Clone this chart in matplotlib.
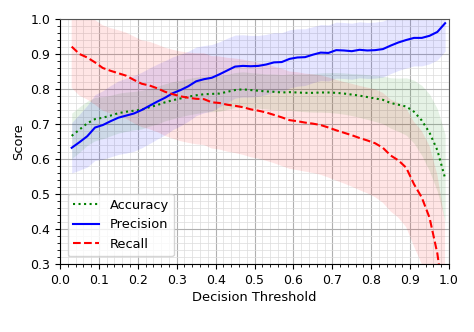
import numpy as np
import matplotlib
matplotlib.use("Agg")
import matplotlib.pyplot as plt
from matplotlib.ticker import MultipleLocator

# decision thresholds
thresholds = [0.03, 0.05, 0.07, 0.09, 0.11, 0.13, 0.15, 0.17, 0.19, 0.21,
              0.23, 0.25, 0.27, 0.29, 0.31, 0.33, 0.35, 0.37, 0.39, 0.41,
              0.43, 0.45, 0.47, 0.49, 0.51, 0.53, 0.55, 0.57, 0.59, 0.61,
              0.63, 0.65, 0.67, 0.69, 0.71, 0.73, 0.75, 0.77, 0.79, 0.81,
              0.83, 0.85, 0.87, 0.89, 0.91, 0.93, 0.95, 0.97, 0.99]

accuracy = [0.666, 0.684, 0.702, 0.714, 0.718, 0.724, 0.731, 0.735, 0.738, 0.741,
            0.748, 0.754, 0.762, 0.768, 0.773, 0.778, 0.782, 0.785, 0.786, 0.787,
            0.792, 0.797, 0.799, 0.797, 0.795, 0.793, 0.792, 0.790, 0.791, 0.790,
            0.789, 0.789, 0.790, 0.790, 0.789, 0.787, 0.784, 0.781, 0.777, 0.773,
            0.769, 0.760, 0.755, 0.750, 0.735, 0.710, 0.675, 0.625, 0.545]
accuracy_std = [0.065, 0.065, 0.063, 0.062, 0.060, 0.058, 0.057, 0.056, 0.055, 0.055,
                0.054, 0.054, 0.053, 0.053, 0.052, 0.052, 0.052, 0.051, 0.051, 0.051,
                0.050, 0.050, 0.050, 0.050, 0.050, 0.050, 0.051, 0.051, 0.052, 0.053,
                0.054, 0.055, 0.056, 0.057, 0.058, 0.059, 0.060, 0.062, 0.064, 0.066,
                0.068, 0.072, 0.076, 0.082, 0.090, 0.100, 0.110, 0.118, 0.125]

precision = [0.632, 0.648, 0.665, 0.690, 0.697, 0.708, 0.718, 0.724, 0.730, 0.740,
             0.752, 0.764, 0.775, 0.788, 0.797, 0.808, 0.822, 0.828, 0.832, 0.842,
             0.853, 0.864, 0.866, 0.865, 0.866, 0.870, 0.876, 0.877, 0.886, 0.890,
             0.891, 0.898, 0.904, 0.903, 0.911, 0.910, 0.908, 0.912, 0.910, 0.911,
             0.914, 0.924, 0.933, 0.940, 0.946, 0.946, 0.952, 0.963, 0.988]
precision_std = [0.072, 0.080, 0.088, 0.094, 0.098, 0.102, 0.105, 0.107, 0.108, 0.108,
                 0.108, 0.107, 0.106, 0.104, 0.102, 0.100, 0.098, 0.096, 0.095, 0.093,
                 0.092, 0.090, 0.089, 0.088, 0.087, 0.086, 0.085, 0.084, 0.083, 0.082,
                 0.081, 0.080, 0.080, 0.080, 0.080, 0.080, 0.080, 0.080, 0.080, 0.080,
                 0.080, 0.080, 0.080, 0.080, 0.080, 0.080, 0.080, 0.080, 0.080]

recall = [0.921, 0.900, 0.890, 0.876, 0.860, 0.852, 0.845, 0.838, 0.826, 0.815,
          0.810, 0.802, 0.792, 0.785, 0.779, 0.775, 0.772, 0.771, 0.762, 0.760,
          0.755, 0.752, 0.748, 0.742, 0.738, 0.733, 0.726, 0.719, 0.711, 0.708,
          0.704, 0.701, 0.697, 0.690, 0.682, 0.675, 0.668, 0.660, 0.653, 0.645,
          0.632, 0.610, 0.596, 0.575, 0.528, 0.490, 0.432, 0.330, 0.170]
recall_std = [0.118, 0.119, 0.120, 0.121, 0.122, 0.122, 0.123, 0.123, 0.124, 0.124,
              0.125, 0.125, 0.126, 0.127, 0.128, 0.129, 0.130, 0.131, 0.132, 0.133,
              0.134, 0.135, 0.136, 0.137, 0.137, 0.138, 0.138, 0.139, 0.139, 0.140,
              0.140, 0.141, 0.142, 0.143, 0.144, 0.145, 0.147, 0.149, 0.151, 0.154,
              0.157, 0.160, 0.164, 0.170, 0.178, 0.190, 0.205, 0.225, 0.250]

x = np.array(thresholds)
series = [
    ("Accuracy", np.array(accuracy), np.array(accuracy_std), "green", ":"),
    ("Precision", np.array(precision), np.array(precision_std), "blue", "-"),
    ("Recall", np.array(recall), np.array(recall_std), "red", "--"),
]

plt.rcParams['font.size'] = 9.4
fig = plt.figure(figsize=(4.74, 3.32), dpi=100)
ax = fig.add_axes([0.1266, 0.2048, 0.8207, 0.738])

for name, m, s, c, ls in series:
    ax.fill_between(x, m - s, m + s, color=c, alpha=0.1, linewidth=0)
for name, m, s, c, ls in series:
    ax.plot(x, m, linestyle=ls, color=c, linewidth=1.5, label=name)

ax.set_xlim(0.0, 1.0)
ax.set_ylim(0.3, 1.0)
ax.xaxis.set_major_locator(MultipleLocator(0.1))
ax.yaxis.set_major_locator(MultipleLocator(0.1))
ax.xaxis.set_minor_locator(MultipleLocator(0.02))
ax.yaxis.set_minor_locator(MultipleLocator(0.02))
ax.grid(which='major', color='#b0b0b0', linewidth=0.8)
ax.grid(which='minor', color='#dcdcdc', linewidth=0.5)
ax.set_axisbelow(True)
ax.tick_params(which='major', labelsize=9)
ax.tick_params(which='minor', length=2)
for sp in ['top', 'right']:
    ax.spines[sp].set_color('#555555')

ax.set_xlabel("Decision Threshold", labelpad=3)
ax.set_ylabel("Score")
ax.legend(loc='lower left', framealpha=0.8, borderaxespad=0.6)

fig.savefig("out.png", dpi=100)
